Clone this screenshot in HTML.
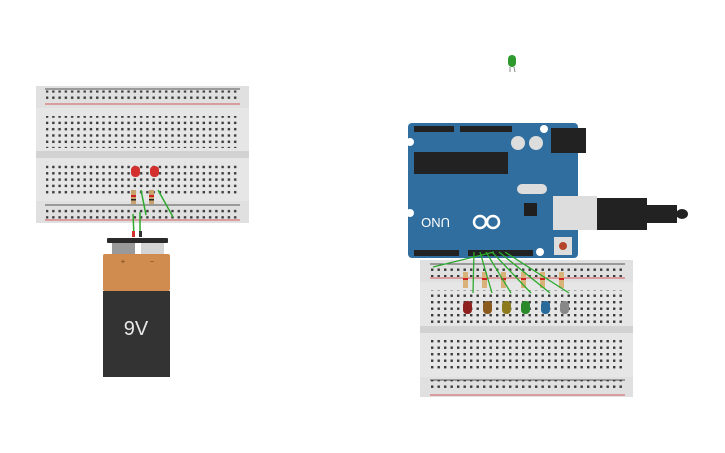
<!DOCTYPE html>
<html><head><meta charset="utf-8"><style>
html,body{margin:0;padding:0;background:#fff;width:725px;height:453px;overflow:hidden}
svg{display:block}
text{font-family:"Liberation Sans",sans-serif}
</style></head><body>
<svg width="725" height="453" viewBox="0 0 725 453" xmlns="http://www.w3.org/2000/svg">
<defs>
<pattern id="dots" width="6.27" height="6.3" patternUnits="userSpaceOnUse"><rect x="2" y="2" width="2.4" height="2.4" fill="#3a3a3a"/></pattern>
<pattern id="dotsR" width="6.5" height="6.5" patternUnits="userSpaceOnUse"><rect x="2" y="2" width="2.4" height="2.4" fill="#3a3a3a"/></pattern>
</defs>

<!-- Left breadboard -->
<rect x="36" y="86" width="213" height="137" fill="#e6e6e6"/>
<rect x="36" y="86" width="213" height="22" fill="#e0e0e0"/>
<line x1="45" y1="89" x2="240" y2="89" stroke="#555" stroke-width="1"/>
<line x1="45" y1="104" x2="240" y2="104" stroke="#d45a5a" stroke-width="1"/>
<rect x="46" y="90.5" width="194" height="12" fill="url(#dots)"/>
<rect x="46" y="116" width="194" height="32" fill="url(#dots)"/>
<rect x="36" y="151" width="213" height="7" fill="#d2d2d2"/>
<rect x="46" y="162" width="194" height="32" fill="url(#dots)"/>
<rect x="36" y="201" width="213" height="22" fill="#e0e0e0"/>
<line x1="45" y1="205" x2="240" y2="205" stroke="#555" stroke-width="1"/>
<line x1="45" y1="220" x2="240" y2="220" stroke="#d45a5a" stroke-width="1"/>
<rect x="46" y="206.5" width="194" height="12" fill="url(#dots)"/>
<!-- left LEDs -->
<rect x="131" y="166" width="9" height="11" rx="4" fill="#d32f2f"/>
<rect x="150" y="166" width="9" height="11" rx="4" fill="#d32f2f"/>
<rect x="131" y="190" width="5" height="14" fill="#c9a26b"/>
<rect x="149" y="190" width="5" height="14" fill="#c9a26b"/>
<rect x="131" y="195" width="5" height="2" fill="#c22"/><rect x="149" y="195" width="5" height="2" fill="#c22"/>
<rect x="131" y="199" width="5" height="1.5" fill="#222"/><rect x="149" y="199" width="5" height="1.5" fill="#222"/>
<line x1="141" y1="190" x2="146" y2="215" stroke="#2eaa2e" stroke-width="1.5"/>
<line x1="158" y1="190" x2="173" y2="217" stroke="#2eaa2e" stroke-width="1.5"/>
<line x1="133" y1="214" x2="134" y2="236" stroke="#2eaa2e" stroke-width="1.5"/>
<line x1="140" y1="212" x2="140" y2="236" stroke="#2eaa2e" stroke-width="1.5"/>
<rect x="132" y="231" width="3" height="6" fill="#d32f2f"/>
<rect x="139" y="231" width="3" height="6" fill="#333"/>

<!-- Battery -->
<rect x="107" y="238" width="61" height="5" rx="1" fill="#2b2b2b"/>
<rect x="112" y="243" width="23" height="11" fill="#999"/>
<rect x="141" y="243" width="23" height="11" fill="#d4d4d4"/>
<rect x="103" y="254" width="67" height="37" rx="2" fill="#d08c4e"/>
<rect x="103" y="291" width="67" height="86" fill="#333"/>
<text x="123" y="264" font-size="8" fill="#7a4a20" text-anchor="middle">+</text>
<text x="152" y="264" font-size="8" fill="#7a4a20" text-anchor="middle">−</text>
<text x="136" y="335" font-size="20" fill="#e8e8e8" text-anchor="middle">9V</text>

<!-- small green LED -->
<rect x="508" y="55" width="8" height="12" rx="4" fill="#2e9a2e"/>
<line x1="510" y1="67" x2="510" y2="72" stroke="#888"/><line x1="514" y1="67" x2="515" y2="72" stroke="#888"/>

<!-- Arduino -->
<rect x="408" y="123" width="170" height="135" rx="4" fill="#2f6e9e"/>
<rect x="414" y="126" width="40" height="6" fill="#222"/>
<rect x="460" y="126" width="52" height="6" fill="#222"/>
<rect x="414" y="250" width="45" height="6" fill="#222"/>
<rect x="468" y="250" width="65" height="6" fill="#222"/>
<rect x="414" y="152" width="94" height="22" fill="#222"/>
<circle cx="518" cy="143" r="7" fill="#ddd"/><circle cx="536" cy="143" r="7" fill="#ddd"/>
<rect x="551" y="128" width="35" height="25" fill="#222"/>
<rect x="517" y="184" width="30" height="10" rx="5" fill="#ddd"/>
<rect x="524" y="203" width="13" height="13" fill="#1f1f1f"/>
<rect x="553" y="196" width="44" height="34" fill="#ddd"/>
<rect x="597" y="198" width="50" height="32" fill="#222"/>
<rect x="647" y="205" width="30" height="18" fill="#222"/>
<ellipse cx="682" cy="214" rx="6" ry="5" fill="#222"/>
<rect x="554" y="237" width="18" height="18" fill="#ddd"/><circle cx="563" cy="246" r="4" fill="#b5452a"/>
<text x="450" y="226" font-size="13" fill="#fff" transform="rotate(180 450 222)">UNO</text>
<circle cx="480" cy="222" r="6" fill="none" stroke="#fff" stroke-width="2.5"/>
<circle cx="493" cy="222" r="6" fill="none" stroke="#fff" stroke-width="2.5"/>
<circle cx="410" cy="142" r="4" fill="#fff"/><circle cx="410" cy="213" r="4" fill="#fff"/>
<circle cx="544" cy="129" r="4" fill="#fff"/><circle cx="540" cy="252" r="4" fill="#fff"/>

<!-- Right breadboard -->
<rect x="420" y="260" width="213" height="137" fill="#e6e6e6"/>
<rect x="420" y="260" width="213" height="22" fill="#e0e0e0"/>
<line x1="430" y1="264" x2="625" y2="264" stroke="#555"/>
<line x1="430" y1="278" x2="625" y2="278" stroke="#d45a5a"/>
<rect x="431" y="265" width="194" height="12" fill="url(#dotsR)"/>
<rect x="431" y="290" width="194" height="33" fill="url(#dotsR)"/>
<rect x="420" y="326" width="213" height="7" fill="#d2d2d2"/>
<rect x="431" y="336" width="194" height="33" fill="url(#dotsR)"/>
<rect x="420" y="377" width="213" height="20" fill="#e0e0e0"/>
<line x1="430" y1="380" x2="625" y2="380" stroke="#555"/>
<line x1="430" y1="395" x2="625" y2="395" stroke="#d45a5a"/>
<rect x="431" y="380" width="194" height="12" fill="url(#dotsR)"/>
<!-- resistors -->
<g fill="#d9b27a">
<rect x="463" y="272" width="5" height="16"/><rect x="482" y="272" width="5" height="16"/><rect x="501" y="272" width="5" height="16"/>
<rect x="521" y="272" width="5" height="16"/><rect x="540" y="272" width="5" height="16"/><rect x="559" y="272" width="5" height="16"/>
</g>
<g fill="#c22">
<rect x="463" y="278" width="5" height="2"/><rect x="482" y="278" width="5" height="2"/><rect x="501" y="278" width="5" height="2"/>
<rect x="521" y="278" width="5" height="2"/><rect x="540" y="278" width="5" height="2"/><rect x="559" y="278" width="5" height="2"/>
</g>
<!-- LEDs -->
<rect x="463" y="301" width="9" height="13" rx="4" fill="#8e2020"/>
<rect x="483" y="301" width="9" height="13" rx="4" fill="#8a5a1e"/>
<rect x="502" y="301" width="9" height="13" rx="4" fill="#8d7a1e"/>
<rect x="521" y="301" width="9" height="13" rx="4" fill="#2a8a2a"/>
<rect x="541" y="301" width="9" height="13" rx="4" fill="#2a6a9a"/>
<rect x="560" y="301" width="9" height="13" rx="4" fill="#888"/>
<!-- wires -->
<g stroke="#2eaa2e" stroke-width="1.3" fill="none">
<line x1="433" y1="267" x2="494" y2="252"/>
<line x1="474" y1="252" x2="473" y2="293"/>
<line x1="480" y1="252" x2="492" y2="293"/>
<line x1="486" y1="252" x2="511" y2="293"/>
<line x1="492" y1="252" x2="531" y2="293"/>
<line x1="499" y1="252" x2="550" y2="293"/>
<line x1="505" y1="252" x2="569" y2="293"/>
</g>
</svg>
</body></html>
